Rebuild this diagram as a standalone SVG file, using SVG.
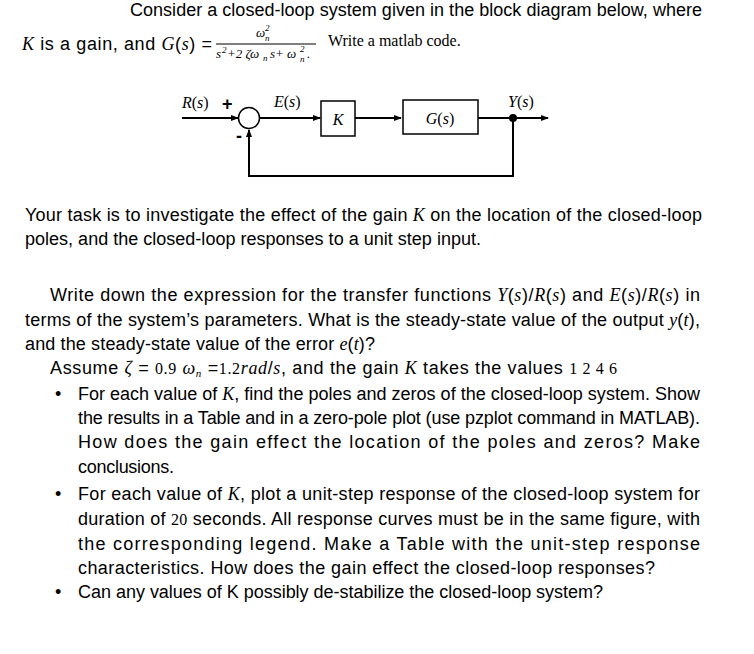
<svg xmlns="http://www.w3.org/2000/svg" width="754" height="654" viewBox="0 0 754 654">
<style>
.t{font-family:"Liberation Sans",Arial,sans-serif;font-size:18px;fill:#000}
.m{font-family:"Liberation Serif","Times New Roman",serif;font-style:italic}
.s{font-family:"Liberation Serif","Times New Roman",serif;font-size:16px}
.f{font-family:"Liberation Serif","Times New Roman",serif;font-style:italic;font-size:13px}
.sm{font-family:"Liberation Serif","Times New Roman",serif;font-style:italic;font-size:9px}
.ln{stroke:#000;stroke-width:2;fill:none}
</style>
<defs><marker id="a" markerWidth="8" markerHeight="8" refX="7" refY="4" orient="auto" markerUnits="userSpaceOnUse"><path d="M0,1 L8,4 L0,7z" fill="#000"/></marker></defs>
<rect width="754" height="654" fill="#fff"/>
<text class="t" x="130" y="16" textLength="572">Consider a closed-loop system given in the block diagram below, where</text>
<text class="t" x="22" y="50" textLength="190"><tspan class="m">K</tspan> is a gain, and <tspan class="m">G</tspan>(<tspan class="m">s</tspan>) =</text>
<text class="f" x="256" y="37">ω</text><text class="sm" x="265" y="31">2</text><text class="sm" x="265" y="41">n</text>
<line x1="216" y1="44" x2="316" y2="44" stroke="#000" stroke-width="1"/>
<text class="f" x="216" y="58">s</text><text class="sm" x="222" y="53">2</text>
<text class="f" x="227" y="58">+2 ζω</text><text class="sm" x="263" y="61">n</text>
<text class="f" x="270" y="58">s+ ω</text><text class="sm" x="300" y="52">2</text><text class="sm" x="300" y="62">n</text>
<text class="f" x="307" y="58">.</text>
<text class="s" x="328" y="46" font-size="17">Write a matlab code.</text>
<g id="connectors">
<line class="ln" x1="182" y1="118" x2="238" y2="118" marker-end="url(#a)"/>
<line class="ln" x1="260" y1="118" x2="320" y2="118" marker-end="url(#a)"/>
<line class="ln" x1="355" y1="118" x2="401" y2="118" marker-end="url(#a)"/>
<line class="ln" x1="478" y1="118" x2="548" y2="118" marker-end="url(#a)"/>
<polyline class="ln" points="513,118 513,176 249,176 249,130" marker-end="url(#a)"/>
<circle cx="513" cy="118" r="4" fill="#000"/>
</g>
<g id="sum"><circle cx="249" cy="118" r="10.5" fill="#fff" stroke="#000" stroke-width="1.5"/></g>
<g id="K"><rect x="321" y="101" width="34" height="35" fill="#fff" stroke="#000" stroke-width="1.5"/><text class="s" x="338" y="125" text-anchor="middle" font-style="italic" font-size="17">K</text></g>
<g id="G"><rect x="403" y="100" width="75" height="34" fill="#fff" stroke="#000" stroke-width="1.5"/><text class="s" x="440" y="124" text-anchor="middle" font-size="17"><tspan font-style="italic">G</tspan>(<tspan font-style="italic">s</tspan>)</text></g>
<text class="s" x="182" y="108" font-size="17"><tspan font-style="italic">R</tspan>(<tspan font-style="italic">s</tspan>)</text>
<text class="t" x="222" y="110" font-weight="bold" font-size="13">+</text>
<text class="t" x="236" y="142" font-weight="bold" font-size="13">-</text>
<text class="s" x="274" y="107" font-size="17"><tspan font-style="italic">E</tspan>(<tspan font-style="italic">s</tspan>)</text>
<text class="s" x="508" y="107" font-size="17"><tspan font-style="italic">Y</tspan>(<tspan font-style="italic">s</tspan>)</text>
<text class="t" x="25" y="221" textLength="677">Your task is to investigate the effect of the gain <tspan class="m">K</tspan> on the location of the closed-loop</text>
<text class="t" x="25" y="245" textLength="456">poles, and the closed-loop responses to a unit step input.</text>
<text class="t" x="50" y="301" textLength="650">Write down the expression for the transfer functions <tspan class="m">Y</tspan>(<tspan class="m">s</tspan>)/<tspan class="m">R</tspan>(<tspan class="m">s</tspan>) and <tspan class="m">E</tspan>(<tspan class="m">s</tspan>)/<tspan class="m">R</tspan>(<tspan class="m">s</tspan>) in</text>
<text class="t" x="25" y="326" textLength="675">terms of the system’s parameters. What is the steady-state value of the output <tspan class="m">y</tspan>(<tspan class="m">t</tspan>),</text>
<text class="t" x="25" y="350" textLength="350">and the steady-state value of the error <tspan class="m">e</tspan>(<tspan class="m">t</tspan>)?</text>
<text class="t" x="50" y="374" textLength="567">Assume <tspan class="m">ζ</tspan> = <tspan class="s">0.9</tspan>  <tspan class="m">ω</tspan><tspan font-size="11" dy="3" class="m">n</tspan><tspan dy="-3"> =</tspan><tspan class="s">1.2</tspan><tspan class="m">rad</tspan>/<tspan class="m">s</tspan>, and the gain <tspan class="m">K</tspan> takes the values  <tspan class="s">1 2 4 6</tspan></text>
<text class="t" x="55" y="400">•</text>
<text class="t" x="78" y="400" textLength="622">For each value of <tspan class="m">K</tspan>, find the poles and zeros of the closed-loop system. Show</text>
<text class="t" x="78" y="424" textLength="622">the results in a Table and in a zero-pole plot (use pzplot command in MATLAB).</text>
<text class="t" x="78" y="448" textLength="622">How does the gain effect the location of the poles and zeros? Make</text>
<text class="t" x="78" y="473" textLength="96">conclusions.</text>
<text class="t" x="55" y="500">•</text>
<text class="t" x="78" y="500" textLength="622">For each value of <tspan class="m">K</tspan>, plot a unit-step response of the closed-loop system for</text>
<text class="t" x="78" y="525" textLength="622">duration of <tspan class="s">20</tspan> seconds. All response curves must be in the same figure, with</text>
<text class="t" x="78" y="550" textLength="622">the corresponding legend. Make a Table with the unit-step response</text>
<text class="t" x="78" y="574" textLength="577">characteristics. How does the gain effect the closed-loop responses?</text>
<text class="t" x="55" y="598">•</text>
<text class="t" x="78" y="598" textLength="525">Can any values of K possibly de-stabilize the closed-loop system?</text>
</svg>
